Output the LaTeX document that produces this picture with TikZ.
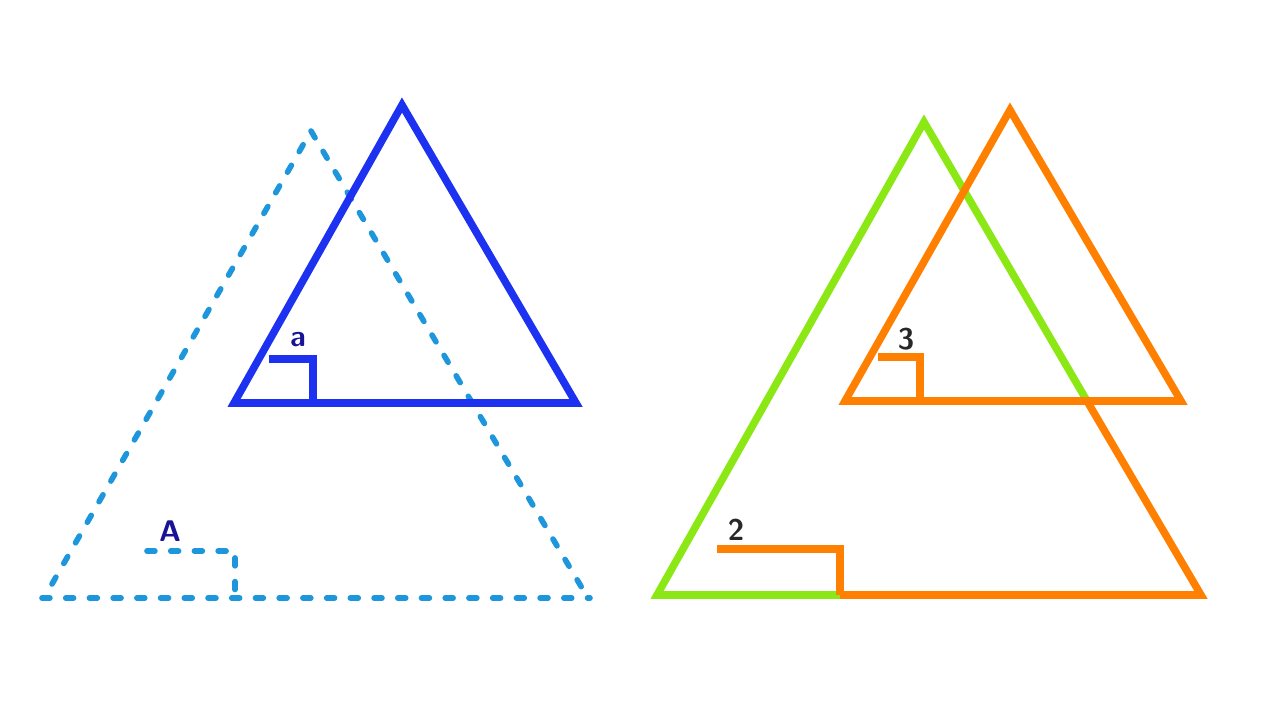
\documentclass[tikz,border=0pt]{standalone}
\usepackage{tikz}
\usetikzlibrary{positioning}
\definecolor{dashblue}{RGB}{30,150,220}
\definecolor{solidblue}{RGB}{28,50,240}
\definecolor{labelblue}{RGB}{25,20,150}
\definecolor{limegreen}{RGB}{140,232,20}
\definecolor{brightorange}{RGB}{255,128,0}
\definecolor{labeldark}{RGB}{40,40,40}
\tikzset{dashside/.style = {draw=dashblue, line width=3.2pt, line cap=round,
                            dash pattern=on 4.5pt off 9pt}}
\tikzset{thick side/.style = {line width=4.3pt, line join=miter}}
\tikzset{anglabel/.style = {font=\fontsize{17}{19}\selectfont\sffamily\bfseries,
                            inner sep=0pt}}

\begin{document}
\begin{tikzpicture}[x=0.02cm, y=-0.02cm]
      \useasboundingbox (0, 0) rectangle (1280, 720);

      % dashed triangle
      \coordinate (dtop) at (311, 131);
      \coordinate (dleft) at (42, 598);
      \coordinate (dright) at (590, 598);
      \draw [dashside] (dleft) -- (dright);
      \draw [dashside] (52, 584) -- (dtop) -- (582, 588);
      \draw [dashside] (147, 551) -- (235, 551) -- (235, 598);
      \node [anglabel, text=labelblue] (labA) at (170, 531) {A};

      % solid blue triangle
      \coordinate (btop) at (402, 105);
      \coordinate (bleft) at (234, 403);
      \coordinate (bright) at (576, 403);
      \draw [thick side, draw=solidblue] (btop) -- (bleft) -- (bright) -- cycle;
      \draw [thick side, draw=solidblue] (269, 359) -- (313, 359) -- (313, 403);
      \node [anglabel, text=labelblue] (laba) at (298, 340) {a};

      % green and orange triangles
      \coordinate (gtop) at (924, 122);
      \coordinate (gleft) at (657, 595);
      \coordinate (gfoot) at (840, 595);
      \coordinate (gcross) at (1087, 401);
      \coordinate (gright) at (1201, 595);
      \draw [thick side, draw=limegreen] (gfoot) -- (gleft) -- (gtop) -- (gcross);

      \coordinate (otop) at (1010, 110);
      \coordinate (oleft) at (845, 401);
      \coordinate (oright) at (1181, 401);
      \draw [thick side, draw=brightorange] (otop) -- (oleft) -- (oright) -- cycle;
      \draw [thick side, draw=brightorange] (878, 357) -- (920, 357) -- (920, 401);
      \node [anglabel, text=labeldark] (lab3) at (906, 339) {3};

      \draw [thick side, draw=brightorange] (gcross) -- (gright) -- (gfoot);
      \draw [thick side, draw=brightorange] (717, 549) -- (840, 549) -- (gfoot);
      \node [anglabel, text=labeldark] (lab2) at (736, 530) {2};
\end{tikzpicture}
\end{document}
